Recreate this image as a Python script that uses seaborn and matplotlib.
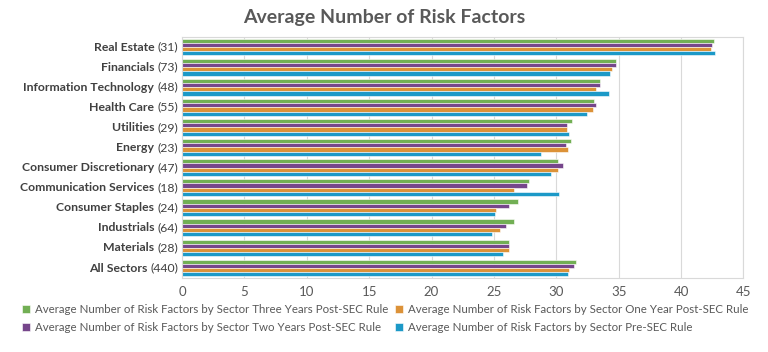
import pandas as pd
import matplotlib
matplotlib.use("Agg")
import matplotlib.pyplot as plt
import seaborn as sns

# ─── Data ────────────────────────────────────────────────────────────────────
SECTORS = ["Real Estate", "Financials", "Information Technology", "Health Care",
           "Utilities", "Energy", "Consumer Discretionary",
           "Communication Services", "Consumer Staples", "Industrials",
           "Materials", "All Sectors"]
COUNTS = [31, 73, 48, 55, 29, 23, 47, 18, 24, 64, 28, 440]

SERIES = [
    "Average Number of Risk Factors by Sector Three Years Post-SEC Rule",
    "Average Number of Risk Factors by Sector Two Years Post-SEC Rule",
    "Average Number of Risk Factors by Sector One Year Post-SEC Rule",
    "Average Number of Risk Factors by Sector Pre-SEC Rule",
]
three_years = [42.65, 34.8, 33.5, 33.05, 31.25, 31.2, 30.1, 27.8, 26.9, 26.6, 26.2, 31.6]
two_years = [42.45, 34.8, 33.5, 33.2, 30.85, 30.75, 30.5, 27.65, 26.2, 25.95, 26.2, 31.4]
one_year = [42.4, 34.5, 33.2, 32.95, 30.85, 30.95, 30.1, 26.65, 25.15, 25.5, 26.2, 31.05]
pre_rule = [42.75, 34.3, 34.2, 32.5, 31.0, 28.8, 29.55, 30.2, 25.1, 24.85, 25.75, 30.95]

COLORS = ["#6DBE45", "#7B3A96", "#F7941D", "#00A6E3"]

# ─── Build long table ────────────────────────────────────────────────────────
rows = []
for name, vals in zip(SERIES, [three_years, two_years, one_year, pre_rule]):
    for sec, v in zip(SECTORS, vals):
        rows.append({"sector": sec, "value": v, "series": name})
df = pd.DataFrame(rows)

sns.set_theme(style="white")
plt.rcParams["font.family"] = ["Lato", "DejaVu Sans"]

fig = plt.figure(figsize=(7.68, 3.52), dpi=100)
ax = fig.add_axes([0.237, 0.21, 0.731, 0.685])

sns.barplot(data=df, y="sector", x="value", hue="series", order=SECTORS,
            hue_order=SERIES, palette=COLORS, orient="h", width=0.84,
            edgecolor="white", linewidth=0.4, errorbar=None, ax=ax)

ax.set_xlim(0, 45)
ax.set_xticks(range(0, 46, 5))
ax.set_xlabel("")
ax.set_ylabel("")
ax.xaxis.grid(True, color="#d9d9d9", linewidth=0.8)
ax.set_axisbelow(True)
for s in ax.spines.values():
    s.set_color("#d9d9d9")
    s.set_linewidth(0.8)
ax.tick_params(axis="x", colors="#595959", labelsize=9.5, length=0, pad=6)
ax.tick_params(axis="y", length=0)
ax.set_yticklabels([])

# Category labels: bold sector name + normal-weight count
for i, (sec, n) in enumerate(zip(SECTORS, COUNTS)):
    cnt = ax.annotate(f"({n})", xy=(-0.007, i), xycoords=("axes fraction", "data"),
                      ha="right", va="center", fontsize=8.8, color="#404040")
    ax.annotate(sec + " ", xy=(0, 0.5), xycoords=cnt, ha="right", va="center",
                fontsize=8.8, fontweight="bold", color="#404040")

# Legend
handles, labels = ax.get_legend_handles_labels()
ax.get_legend().remove()
fig.legend(handles, labels, loc="lower left", bbox_to_anchor=(0.015, 0.025),
           ncol=2, frameon=False, fontsize=8.3, labelcolor="#595959",
           handlelength=0.7, handleheight=0.7, handletextpad=0.4,
           columnspacing=0.6, labelspacing=0.55)

fig.suptitle("Average Number of Risk Factors", x=0.5, y=0.975,
             fontsize=14, fontweight="bold", color="#595959")

fig.savefig("out.png", dpi=100)
